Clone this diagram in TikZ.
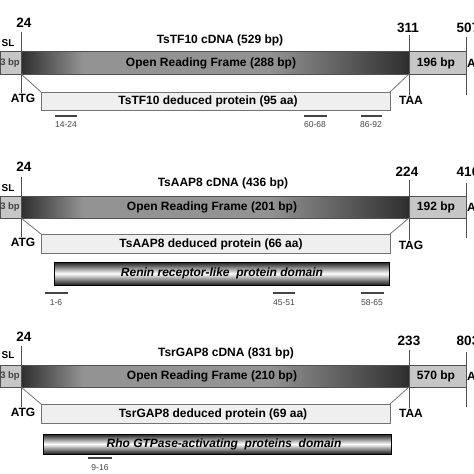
\documentclass[tikz,border=0pt]{standalone}
\usepackage{fontspec}
\setmainfont{Liberation Sans}
\definecolor{orfdark}{HTML}{2E2E2E}
\definecolor{orfmid}{HTML}{939393}
\definecolor{utrgray}{HTML}{C6C6C6}
\definecolor{protgray}{HTML}{EFEFEF}
\definecolor{linegray}{HTML}{505050}
\definecolor{domdark}{HTML}{1C1C1C}
\definecolor{smallgray}{HTML}{444444}
\pgfdeclarehorizontalshading{orfshade}{100bp}{color(0bp)=(orfdark); color(25bp)=(orfdark); color(33bp)=(orfmid); color(57bp)=(orfmid); color(75bp)=(orfdark); color(100bp)=(orfdark)}
\begin{document}
\begin{tikzpicture}[x=1pt,y=-1pt,
  box/.style={anchor=north west, inner sep=0pt, outer sep=0pt, draw=linegray, line width=0.8pt},
  utrbox/.style={box, fill=utrgray},
  orfbox/.style={box, shading=orfshade},
  protbox/.style={box, fill=protgray, draw=linegray!80},
  dombox/.style={box, draw=black, top color=domdark, bottom color=domdark, middle color=white},
  posnum/.style={font=\bfseries\fontsize{13.5}{14}\selectfont, inner sep=0pt},
  lbl/.style={font=\bfseries\fontsize{12}{13}\selectfont, inner sep=0pt},
  sl/.style={font=\bfseries\fontsize{10}{11}\selectfont, inner sep=0pt},
  codon/.style={font=\bfseries\fontsize{12}{13}\selectfont, inner sep=0pt},
  utrtxt/.style={font=\bfseries\fontsize{9.5}{10}\selectfont, text=smallgray, inner sep=0pt, anchor=east},
  domtxt/.style={font=\bfseries\itshape\fontsize{12}{13}\selectfont, inner sep=0pt},
  smalltxt/.style={font=\fontsize{8.5}{9}\selectfont, text=smallgray, inner sep=0pt},
  vline/.style={draw=linegray, line width=1pt},
  diag/.style={draw=linegray!80, line width=0.8pt},
  tickbar/.style={draw=smallgray, line width=2pt}
]
\useasboundingbox (0,0) rectangle (474,474);

% ================= Panel 1 =================
\node[posnum] (n24a) at (24,23) {24};
\node[posnum] (n311) at (408,28) {311};
\node[posnum] (n507) at (468,28) {507};
\node[sl] (sla) at (8,43) {SL};
\node[lbl] (tita) at (220,40) {TsTF10 cDNA (529 bp)};
\node[utrbox, minimum width=21pt, minimum height=23pt] (u5a) at (0,51) {};
\node[orfbox, minimum width=388pt, minimum height=23pt] (orfa) at (21,51) {};
\node[utrbox, minimum width=57pt, minimum height=23pt] (u3a) at (409,51) {};
\node[utrtxt] (u5ta) at (20,63) {23 bp};
\node[lbl] (orfta) at (211,63) {Open Reading Frame (288 bp)};
\node[lbl] (u3ta) at (436,63) {196 bp};
\node[lbl, anchor=west] (pola) at (467,63) {A};
\node[protbox, minimum width=349pt, minimum height=18pt] (prota) at (41,92) {};
\node[lbl] (protta) at (208,101) {TsTF10 deduced protein (95 aa)};
\node[codon] (atga) at (23,98) {ATG};
\node[codon] (stopa) at (411,100) {TAA};
\coordinate (v1a) at (21,32); \coordinate (v1b) at (21,93);
\coordinate (v2a) at (409,35); \coordinate (v2b) at (409,95);
\coordinate (v3a) at (466,37); \coordinate (v3b) at (466,95);
\draw[vline] (v1a) -- (v1b);
\draw[vline] (v2a) -- (v2b);
\draw[vline] (v3a) -- (v3b);
\draw[diag] (orfa.south west) -- (prota.north west);
\draw[diag] (orfa.south east) -- (prota.north east);
\coordinate (ta1) at (55,116); \coordinate (ta2) at (77,116);
\coordinate (tb1) at (304,116); \coordinate (tb2) at (327,116);
\coordinate (tc1) at (361,116); \coordinate (tc2) at (382,116);
\draw[tickbar] (ta1) -- (ta2);
\draw[tickbar] (tb1) -- (tb2);
\draw[tickbar] (tc1) -- (tc2);
\node[smalltxt] (sa1) at (66,125) {14-24};
\node[smalltxt] (sa2) at (315,125) {60-68};
\node[smalltxt] (sa3) at (371,125) {86-92};

% ================= Panel 2 =================
\node[posnum] (n24b) at (24,167) {24};
\node[posnum] (n224) at (407,172) {224};
\node[posnum] (n416) at (468,172) {416};
\node[sl] (slb) at (8,188) {SL};
\node[lbl] (titb) at (223,183) {TsAAP8 cDNA (436 bp)};
\node[utrbox, minimum width=21pt, minimum height=22pt] (u5b) at (0,196) {};
\node[orfbox, minimum width=388pt, minimum height=22pt] (orfb) at (21,196) {};
\node[utrbox, minimum width=57pt, minimum height=22pt] (u3b) at (409,196) {};
\node[utrtxt] (u5tb) at (20,207) {23 bp};
\node[lbl] (orftb) at (212,207) {Open Reading Frame (201 bp)};
\node[lbl] (u3tb) at (436,207) {192 bp};
\node[lbl, anchor=west] (polb) at (467,207) {A};
\node[protbox, minimum width=349pt, minimum height=19pt] (protb) at (41,234) {};
\node[lbl] (prottb) at (211,244) {TsAAP8 deduced protein (66 aa)};
\node[codon] (atgb) at (23,242) {ATG};
\node[codon] (stopb) at (411,245) {TAG};
\coordinate (w1a) at (21,177); \coordinate (w1b) at (21,237);
\coordinate (w2a) at (409,180); \coordinate (w2b) at (409,240);
\coordinate (w3a) at (466,183); \coordinate (w3b) at (466,238);
\draw[vline] (w1a) -- (w1b);
\draw[vline] (w2a) -- (w2b);
\draw[vline] (w3a) -- (w3b);
\draw[diag] (orfb.south west) -- (protb.north west);
\draw[diag] (orfb.south east) -- (protb.north east);
\node[dombox, minimum width=335pt, minimum height=23pt] (domb) at (54,262) {};
\node[domtxt] (domtb) at (222,273) {Renin receptor-like\ \ protein\ domain};
\coordinate (tbb1) at (45,293); \coordinate (tbb2) at (68,293);
\coordinate (tbb3) at (273,293); \coordinate (tbb4) at (295,293);
\coordinate (tbb5) at (361,293); \coordinate (tbb6) at (384,293);
\draw[tickbar] (tbb1) -- (tbb2);
\draw[tickbar] (tbb3) -- (tbb4);
\draw[tickbar] (tbb5) -- (tbb6);
\node[smalltxt] (sb1) at (56,303) {1-6};
\node[smalltxt] (sb2) at (284,303) {45-51};
\node[smalltxt] (sb3) at (372,303) {58-65};

% ================= Panel 3 =================
\node[posnum] (n24c) at (24,337) {24};
\node[posnum] (n233) at (409,341) {233};
\node[posnum] (n803) at (468,341) {803};
\node[sl] (slc) at (8,355) {SL};
\node[lbl] (titc) at (226,353) {TsrGAP8 cDNA (831 bp)};
\node[utrbox, minimum width=21pt, minimum height=22pt] (u5c) at (0,365) {};
\node[orfbox, minimum width=388pt, minimum height=22pt] (orfc) at (21,365) {};
\node[utrbox, minimum width=57pt, minimum height=22pt] (u3c) at (409,365) {};
\node[utrtxt] (u5tc) at (20,376) {23 bp};
\node[lbl] (orftc) at (212,376) {Open Reading Frame (210 bp)};
\node[lbl] (u3tc) at (436,376) {570 bp};
\node[lbl, anchor=west] (polc) at (467,376) {A};
\node[protbox, minimum width=349pt, minimum height=19pt] (protc) at (41,404) {};
\node[lbl] (prottc) at (213,414) {TsrGAP8 deduced protein (69 aa)};
\node[codon] (atgc) at (23,412) {ATG};
\node[codon] (stopc) at (411,413) {TAA};
\coordinate (x1a) at (21,346); \coordinate (x1b) at (21,407);
\coordinate (x2a) at (409,350); \coordinate (x2b) at (409,408);
\coordinate (x3a) at (466,352); \coordinate (x3b) at (466,407);
\draw[vline] (x1a) -- (x1b);
\draw[vline] (x2a) -- (x2b);
\draw[vline] (x3a) -- (x3b);
\draw[diag] (orfc.south west) -- (protc.north west);
\draw[diag] (orfc.south east) -- (protc.north east);
\node[dombox, minimum width=348pt, minimum height=20pt] (domc) at (43,434) {};
\node[domtxt] (domtc) at (224,444) {Rho GTPase-activating\ \ proteins\ \ domain};
\coordinate (tcc1) at (88,458); \coordinate (tcc2) at (112,458);
\draw[tickbar] (tcc1) -- (tcc2);
\node[smalltxt] (sc1) at (100,468) {9-16};
\end{tikzpicture}
\end{document}
